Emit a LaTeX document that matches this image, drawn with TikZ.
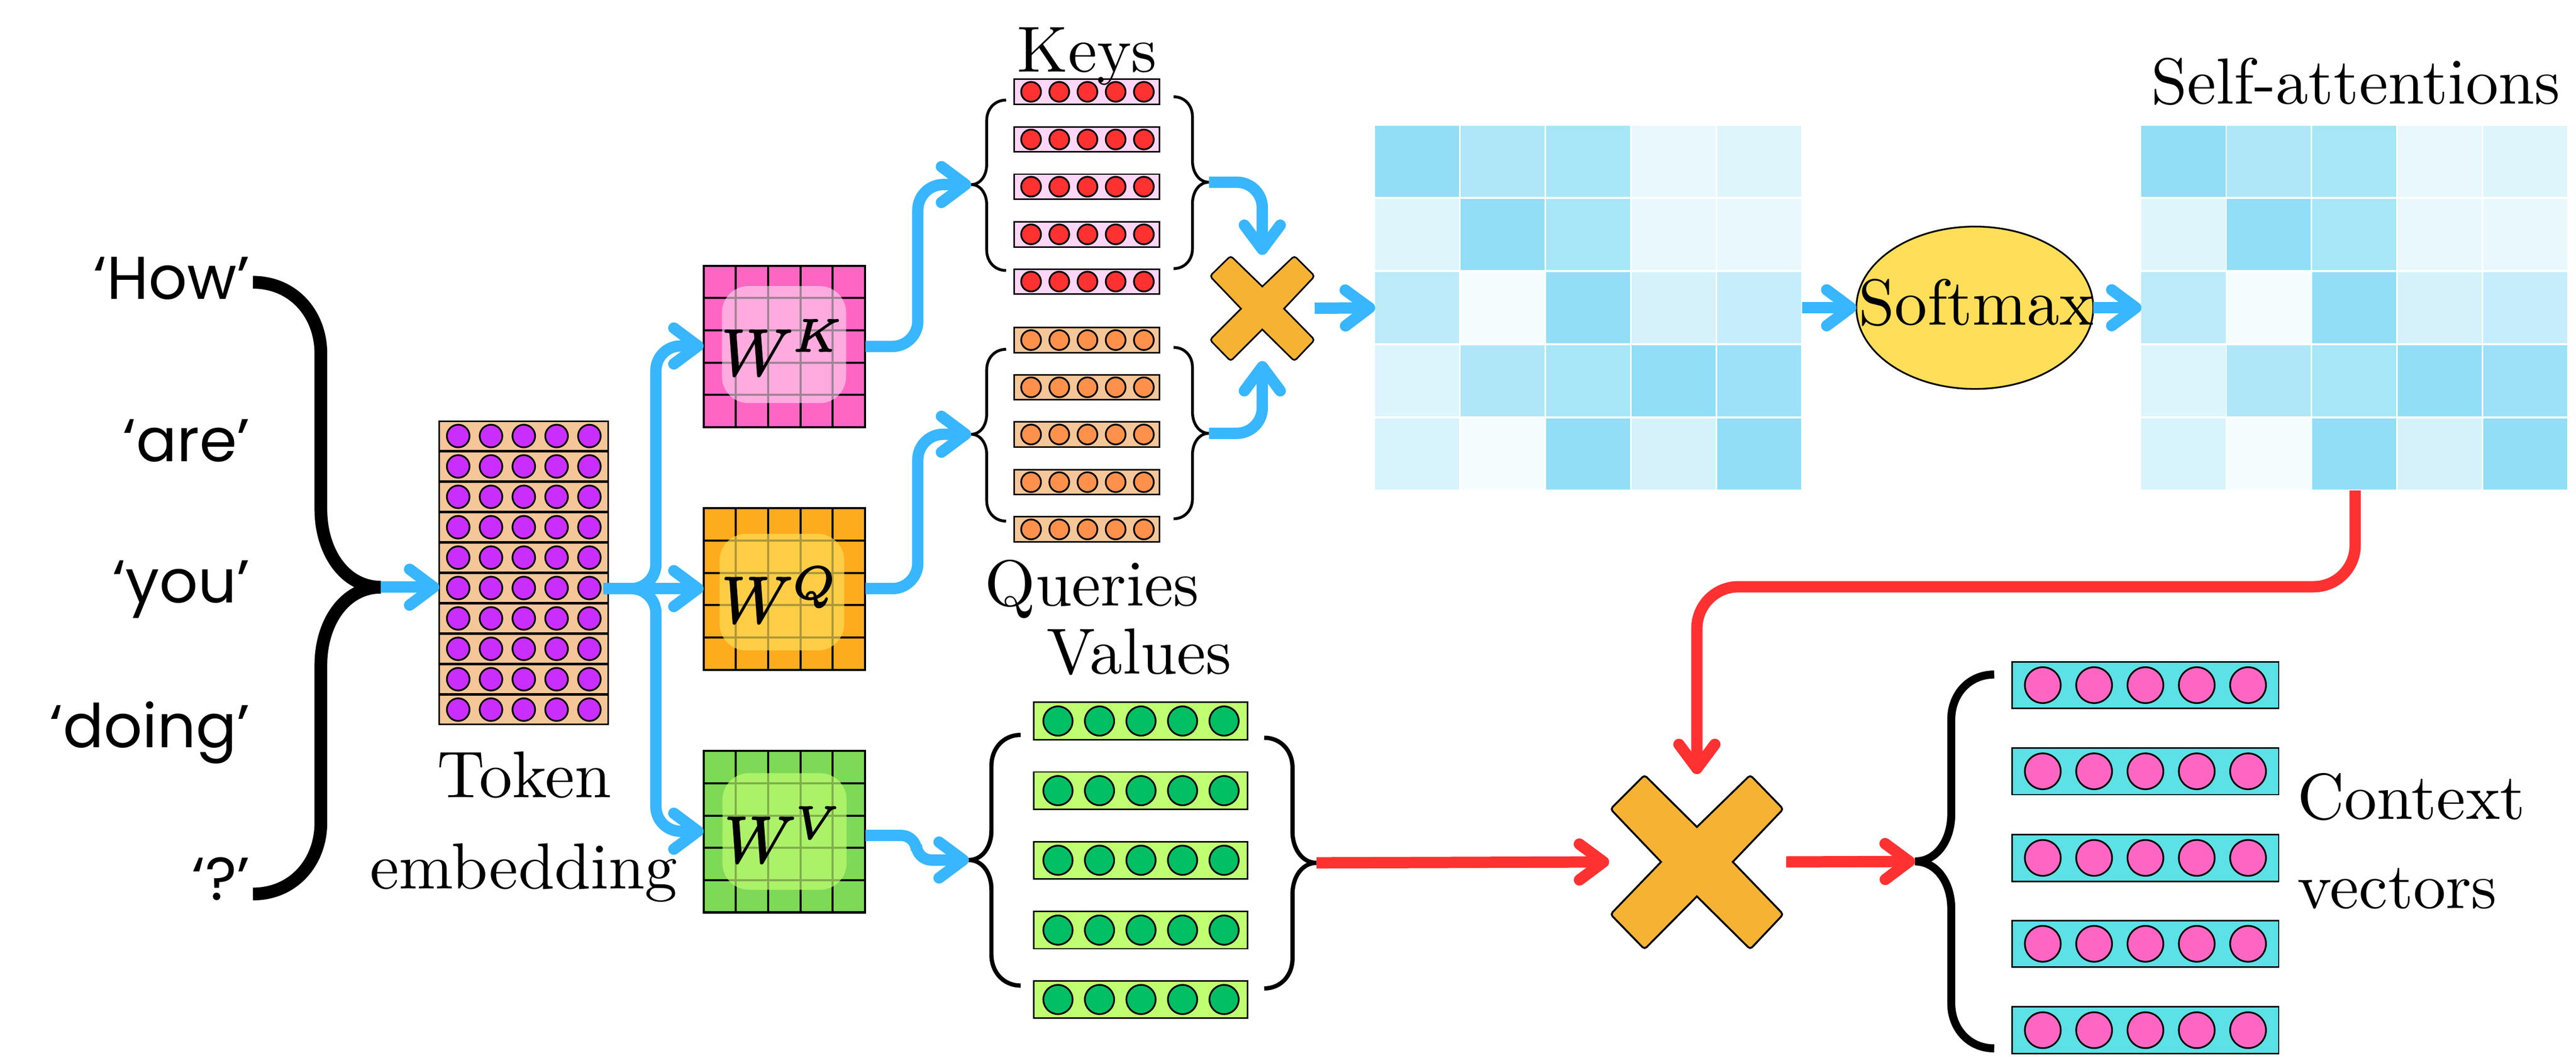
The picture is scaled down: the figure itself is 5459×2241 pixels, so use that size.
\documentclass[tikz,border=0pt]{standalone}
\usepackage{fontspec}
\usetikzlibrary{arrows.meta}
\newfontfamily\popfont{Poppins}
\definecolor{hA}{HTML}{92DEF6}\definecolor{hB}{HTML}{AFE7F8}\definecolor{hC}{HTML}{A6E6F7}
\definecolor{hD}{HTML}{E9F8FD}\definecolor{hE}{HTML}{DFF5FC}\definecolor{hF}{HTML}{BCEAF9}
\definecolor{hG}{HTML}{F5FCFE}\definecolor{hH}{HTML}{D5F2FA}\definecolor{hI}{HTML}{C6EEFA}
\definecolor{hJ}{HTML}{DCF5FC}\definecolor{hK}{HTML}{9CE1F8}\definecolor{hL}{HTML}{D7F3FB}
\definecolor{arrowblue}{HTML}{38B6FF}\definecolor{arrowred}{HTML}{FF3131}
\definecolor{pinkm}{HTML}{FF66C4}\definecolor{orangem}{HTML}{FCAC1D}\definecolor{greenm}{HTML}{7ED957}
\definecolor{pinko}{HTML}{FFD6F0}\definecolor{yellowo}{HTML}{FFDE59}\definecolor{limeo}{HTML}{C1FF72}
\definecolor{peach}{HTML}{F5C698}\definecolor{purplec}{HTML}{C92EFF}\definecolor{keybox}{HTML}{FFD6F5}
\definecolor{orangec}{HTML}{FF914D}\definecolor{greenc}{HTML}{00BF63}\definecolor{turq}{HTML}{5CE1E6}
\definecolor{crossc}{HTML}{F6B333}
\tikzset{
  lbl/.style={anchor=base,inner sep=0pt,scale=3.45,font=\fontsize{10}{12}\selectfont},
  mathlbl/.style={anchor=base west,inner sep=0pt,scale=3.5,font=\fontsize{10}{12}\selectfont},
  word/.style={anchor=base east,inner sep=0pt,font=\popfont\fontsize{32}{36}\selectfont},
  conn/.style={line width=6pt,-{Straight Barb[round,length=12.75pt,width=19pt,line width=6pt]}},
  blueconn/.style={conn,draw=arrowblue},
  redconn/.style={conn,draw=arrowred},
  crossshape/.style={fill=crossc,draw=black,line width=0.85pt},
  softnode/.style={ellipse,draw=black,line width=0.9pt,fill=yellowo,minimum width=125.5pt,minimum height=86pt,inner sep=0pt}
}
\usetikzlibrary{shapes.geometric}
\newcommand{\heavytext}{\special{pdf:code 2 Tr 0.2 w}}
\newcommand{\plaintext}{\special{pdf:code 0 Tr}}
\newcommand{\curlybrace}[7]{%
  \pgfmathsetmacro{\dA}{abs(#2-#1)*1.05}%
  \pgfmathsetmacro{\dB}{abs(#3-#2)*1.3}%
  \pgfmathsetmacro{\cA}{#1+0.6*(#2-#1)}%
  \pgfmathsetmacro{\cB}{#3+0.6*(#2-#3)}%
  \draw[line width=#7,line cap=butt]
    (#1,#4) .. controls (\cA,#4) and (#2,#4+0.45*\dA) .. (#2,#4+\dA)
    -- (#2,#5-\dB) .. controls (#2,#5-0.45*\dB) and (\cB,#5) .. (#3,#5)
    (#3,#5) .. controls (\cB,#5) and (#2,#5+0.45*\dB) .. (#2,#5+\dB)
    -- (#2,#6-\dA) .. controls (#2,#6-0.45*\dA) and (\cA,#6) .. (#1,#6);
}
\newcommand{\vecrow}[9]{%
  \draw[fill=#8,line width=0.8pt] (#1,#2) rectangle ++(#3,#4);
  \foreach \ci in {0,...,4}{
    \pgfmathsetmacro{\cx}{#6+\ci*#7}
    \draw[fill=#9,line width=0.9pt] (\cx,#2+#4/2) circle[radius=#5*0.25pt];
  }
}
\newcommand{\gridmat}[9]{%
  \foreach \gi in {0,...,4}{\foreach \gj in {0,...,4}{
    \draw[fill=#3,line width=1.1pt] (#1+1+\gi*68.4,#2+1+\gj*68.4) rectangle ++(68.4,68.4);
  }}
  \fill[#4,opacity=#5,rounded corners=14pt] (#6,#7) rectangle (#8,#9);
}
\newcommand{\heatmat}[1]{%
  \foreach \hc [count=\hi from 0] in {hA,hB,hC,hD,hE, hE,hA,hC,hD,hD, hF,hG,hA,hH,hI, hJ,hB,hC,hA,hK, hL,hG,hA,hH,hA}{
    \pgfmathtruncatemacro{\hx}{mod(\hi,5)}
    \pgfmathtruncatemacro{\hy}{floor(\hi/5)}
    \fill[\hc] (#1+\hx*181.2,266+\hy*155) rectangle ++(178,151.5);
  }
}
\begin{document}
\begin{tikzpicture}[x=0.25pt,y=-0.25pt]
\useasboundingbox (0,0) rectangle (5459,2241);
\coordinate (bigTip) at (807,1244);
\coordinate (tokIn) at (931,1244);
\coordinate (tokOut) at (1279,1247);
\coordinate (wkIn) at (1491,733);
\coordinate (wqIn) at (1491,1247);
\coordinate (wvIn) at (1491,1761);
\coordinate (wkOut) at (1834,734);
\coordinate (wqOut) at (1834,1247);
\coordinate (wvOut) at (1834,1770);
\coordinate (kL) at (2058,391);
\coordinate (qL) at (2058,920);
\coordinate (vL) at (2053,1822);
\coordinate (kR) at (2562,386);
\coordinate (qR) at (2562,918);
\coordinate (vR) at (2790,1828);
\coordinate (smallTop) at (2675,540);
\coordinate (smallBot) at (2675,765);
\coordinate (smallOut) at (2786,653);
\coordinate (heatIn) at (2914,652);
\coordinate (heatOut) at (3819,652);
\coordinate (softIn) at (3934,652);
\coordinate (softOut) at (4436,652);
\coordinate (attIn) at (4538,652);
\coordinate (attOut) at (4991,1039);
\coordinate (bigTop) at (3596,1640);
\coordinate (bigIn) at (3410,1826);
\coordinate (bigOut) at (3785,1826);
\coordinate (cTip) at (4058,1825);

\node[word] (w1) at (531,634) {‘How’};
\node[word] (w2) at (531,978) {‘are’};
\node[word] (w3) at (531,1277) {‘you’};
\node[word] (w4) at (531,1584) {‘doing’};
\node[word] (w5) at (531,1907) {‘?’};
\curlybrace{536}{680}{807}{598}{1244}{1894}{6.75pt}

\foreach \r in {0,...,9}{
  \pgfmathsetmacro{\ry}{893+\r*64.4}
  \vecrow{931}{\ry}{358}{61.5}{24}{971}{69.5}{peach}{purplec}
}
\node[lbl,scale=1.015] (token) at (1111,1689) {Token};
\node[lbl] (embed) at (1110,1883) {embedding};

\gridmat{1490}{562}{pinkm}{pinko}{0.62}{1530}{606}{1793}{854}
\node[mathlbl] (wk) at (1526,795) {\heavytext$W^K$\plaintext};
\gridmat{1490}{1076}{orangem}{yellowo}{0.68}{1525}{1131}{1789}{1378}
\node[mathlbl] (wq) at (1526,1319) {\heavytext$W^Q$\plaintext};
\gridmat{1490}{1590}{greenm}{limeo}{0.68}{1531}{1638}{1794}{1885}
\node[mathlbl] (wv) at (1532,1827) {\heavytext$W^V$\plaintext};

\foreach \y in {168,269,369,470,570}{\vecrow{2149}{\y}{308}{53}{21}{2185}{59.75}{keybox}{arrowred}}
\curlybrace{2132}{2091}{2058}{212}{391}{573}{1.5pt}
\curlybrace{2487}{2527}{2562}{205}{386}{569}{1.5pt}
\node[lbl] (keys) at (2304,152) {Keys};
\foreach \y in {694,794,894,995,1095}{\vecrow{2149}{\y}{308}{53}{21}{2185}{59.75}{peach}{orangec}}
\curlybrace{2132}{2091}{2058}{740}{920}{1104}{1.5pt}
\curlybrace{2487}{2527}{2562}{736}{918}{1099}{1.5pt}
\node[lbl] (queries) at (2314,1283) {Queries};
\foreach \y in {1488,1635.5,1783,1931,2078}{\vecrow{2191}{\y}{453}{79}{31}{2242}{88}{limeo}{greenc}}
\curlybrace{2163}{2101}{2053}{1557}{1822}{2088}{2.25pt}
\curlybrace{2679}{2739}{2790}{1563}{1828}{2094}{2.25pt}
\node[lbl] (values) at (2414,1427) {Values};

\draw[crossshape,rounded corners=1.5pt] (2608,542) [sharp corners] -- (2675,607) [rounded corners=1.5pt] -- (2743,542) -- (2786,585) [sharp corners] -- (2721,654) [rounded corners=1.5pt] -- (2786,720) -- (2743,765) [sharp corners] -- (2675,698) [rounded corners=1.5pt] -- (2608,765) -- (2564,720) [sharp corners] -- (2630,654) [rounded corners=1.5pt] -- (2564,585) -- cycle;
\draw[crossshape,line width=1pt,rounded corners=1.5pt] (3485,1642) [sharp corners] -- (3596,1752) [rounded corners=1.5pt] -- (3709,1642) -- (3779,1714) [sharp corners] -- (3672,1826) [rounded corners=1.5pt] -- (3779,1937) -- (3709,2011) [sharp corners] -- (3596,1899) [rounded corners=1.5pt] -- (3485,2011) -- (3413,1937) [sharp corners] -- (3520,1826) [rounded corners=1.5pt] -- (3413,1714) -- cycle;

\heatmat{2914}
\heatmat{4538}
\node[lbl] (selfatt) at (4992,220) {Self-attentions};
\node[softnode] (soft) at (4185,652) {};
\node[lbl] (softtext) at (4188,688) {Softmax};

\foreach \y in {1402,1584.5,1768,1950,2133}{\vecrow{4264}{\y}{565}{99}{38}{4329}{108.75}{turq}{pinkm}}
\curlybrace{4226}{4135}{4058}{1429}{1825}{2221}{4.25pt}
\node[lbl,anchor=base west] (context) at (4866,1735) {Context};
\node[lbl,anchor=base west] (vectors) at (4866,1924) {vectors};

\draw[blueconn] (bigTip) -- (tokIn);
\draw[blueconn,rounded corners=13pt] (tokOut) -- (1390,1247) -- (1390,733) -- (wkIn);
\draw[blueconn,rounded corners=13pt] (tokOut) -- (1390,1247) -- (1390,1761) -- (wvIn);
\draw[blueconn] (tokOut) -- (wqIn);
\draw[blueconn,rounded corners=13.5pt] (wkOut) -- (1945,734) -- (1945,391) -- (kL);
\draw[blueconn,rounded corners=13.5pt] (wqOut) -- (1945,1247) -- (1945,920) -- (qL);
\draw[blueconn,rounded corners=8pt] (wvOut) -- (1942,1770) -- (1942,1822) -- (vL);
\draw[blueconn,rounded corners=13.5pt] (kR) -- (2675,386) -- (smallTop);
\draw[blueconn,rounded corners=13.5pt] (qR) -- (2675,918) -- (smallBot);
\draw[blueconn] (smallOut) -- (heatIn);
\draw[blueconn] (heatOut) -- (softIn);
\draw[blueconn] (softOut) -- (attIn);
\draw[redconn,rounded corners=22pt] (attOut) -- (4991,1243) -- (3596,1243) -- (bigTop);
\draw[redconn] (vR) -- (bigIn);
\draw[redconn] (bigOut) -- (cTip);
\end{tikzpicture}
\end{document}
